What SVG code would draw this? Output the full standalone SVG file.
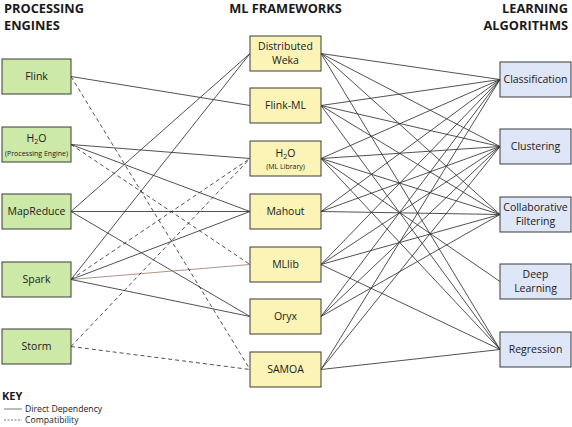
<svg xmlns="http://www.w3.org/2000/svg" width="572" height="427" viewBox="0 0 572 427">
<style>
  rect.box { stroke:#3a3a3a; stroke-width:1; }
  .eng rect { fill:#cde9a8; }
  .fw rect { fill:#fbf4b6; }
  .alg rect { fill:#dfe6f7; }
  text { font-family:"Open Sans","Noto Sans","Liberation Sans",sans-serif; fill:#1a1a1a; }
  .lbl { font-size:10.5px; text-anchor:middle; }
  .sm { font-size:7px; text-anchor:middle; }
  .sub { font-size:7px; }
  .hdr { font-size:12.8px; font-weight:bold; }
  #connectors line { stroke:#333; stroke-width:0.85; fill:none; }
  #connectors line.dash { stroke-dasharray:4 3; }
  #connectors line.brown { stroke:#a08070; }
  .keyline { stroke:#555; stroke-width:0.8; }
</style>

<!-- headers -->
<g id="headers">
  <text class="hdr" x="4" y="12.5">PROCESSING</text>
  <text class="hdr" x="4" y="29.5">ENGINES</text>
  <text class="hdr" x="285.5" y="12.5" text-anchor="middle">ML FRAMEWORKS</text>
  <text class="hdr" x="568" y="12.5" text-anchor="end">LEARNING</text>
  <text class="hdr" x="568" y="29.5" text-anchor="end">ALGORITHMS</text>
</g>

<!-- connectors -->
<g id="connectors">
  <!-- engines to frameworks -->
  <line x1="71" y1="76.5" x2="250" y2="105.5"/>
  <line x1="71" y1="144.5" x2="250" y2="158.5"/>
  <line x1="71" y1="144.5" x2="250" y2="211.5"/>
  <line x1="71" y1="211.5" x2="250" y2="53.5"/>
  <line x1="71" y1="211.5" x2="250" y2="211.5"/>
  <line x1="71" y1="211.5" x2="250" y2="316.5"/>
  <line x1="71" y1="279.5" x2="250" y2="53.5"/>
  <line x1="71" y1="279.5" x2="250" y2="211.5"/>
  <line class="brown" x1="71" y1="279.5" x2="250" y2="264.5"/>
  <line x1="71" y1="279.5" x2="250" y2="316.5"/>
  <line class="dash" x1="71" y1="76.5" x2="250" y2="369.5"/>
  <line class="dash" x1="71" y1="144.5" x2="250" y2="264.5"/>
  <line class="dash" x1="71" y1="279.5" x2="250" y2="158.5"/>
  <line class="dash" x1="71" y1="346.5" x2="250" y2="158.5"/>
  <line class="dash" x1="71" y1="346.5" x2="250" y2="369.5"/>
  <!-- frameworks to algorithms -->
  <line x1="321" y1="53.5" x2="500" y2="79.5"/>
  <line x1="321" y1="53.5" x2="500" y2="146.5"/>
  <line x1="321" y1="53.5" x2="500" y2="214.5"/>
  <line x1="321" y1="53.5" x2="500" y2="349.5"/>
  <line x1="321" y1="105.5" x2="500" y2="79.5"/>
  <line x1="321" y1="105.5" x2="500" y2="146.5"/>
  <line x1="321" y1="105.5" x2="500" y2="214.5"/>
  <line x1="321" y1="105.5" x2="500" y2="349.5"/>
  <line x1="321" y1="158.5" x2="500" y2="79.5"/>
  <line x1="321" y1="158.5" x2="500" y2="146.5"/>
  <line x1="321" y1="158.5" x2="500" y2="214.5"/>
  <line x1="321" y1="158.5" x2="500" y2="281.5"/>
  <line x1="321" y1="158.5" x2="500" y2="349.5"/>
  <line x1="321" y1="211.5" x2="500" y2="79.5"/>
  <line x1="321" y1="211.5" x2="500" y2="146.5"/>
  <line x1="321" y1="211.5" x2="500" y2="214.5"/>
  <line x1="321" y1="264.5" x2="500" y2="79.5"/>
  <line x1="321" y1="264.5" x2="500" y2="146.5"/>
  <line x1="321" y1="264.5" x2="500" y2="214.5"/>
  <line x1="321" y1="264.5" x2="500" y2="349.5"/>
  <line x1="321" y1="316.5" x2="500" y2="79.5"/>
  <line x1="321" y1="316.5" x2="500" y2="146.5"/>
  <line x1="321" y1="316.5" x2="500" y2="214.5"/>
  <line x1="321" y1="369.5" x2="500" y2="79.5"/>
  <line x1="321" y1="369.5" x2="500" y2="146.5"/>
  <line x1="321" y1="369.5" x2="500" y2="349.5"/>
</g>

<!-- processing engines -->
<g id="eng-flink" class="eng">
  <rect class="box" x="2" y="59" width="69" height="35"/>
  <text class="lbl" x="36.5" y="80.3">Flink</text>
</g>
<g id="eng-h2o" class="eng">
  <rect class="box" x="2" y="127" width="69" height="35"/>
  <text class="lbl" x="36.5" y="141.5">H<tspan class="sub" dy="2.5">2</tspan><tspan dy="-2.5">O</tspan></text>
  <text class="sm" x="36.5" y="155.5">(Processing Engine)</text>
</g>
<g id="eng-mapreduce" class="eng">
  <rect class="box" x="2" y="194" width="69" height="35"/>
  <text class="lbl" x="36.5" y="215.3">MapReduce</text>
</g>
<g id="eng-spark" class="eng">
  <rect class="box" x="2" y="262" width="69" height="35"/>
  <text class="lbl" x="36.5" y="283.3">Spark</text>
</g>
<g id="eng-storm" class="eng">
  <rect class="box" x="2" y="329" width="69" height="35"/>
  <text class="lbl" x="36.5" y="350.3">Storm</text>
</g>

<!-- ML frameworks -->
<g id="fw-dweka" class="fw">
  <rect class="box" x="250" y="36" width="71" height="35"/>
  <text class="lbl" x="285.5" y="49.5">Distributed</text>
  <text class="lbl" x="285.5" y="64">Weka</text>
</g>
<g id="fw-flinkml" class="fw">
  <rect class="box" x="250" y="88" width="71" height="35"/>
  <text class="lbl" x="285.5" y="109.3">Flink-ML</text>
</g>
<g id="fw-h2o" class="fw">
  <rect class="box" x="250" y="141" width="71" height="35"/>
  <text class="lbl" x="285.5" y="156.5">H<tspan class="sub" dy="2.5">2</tspan><tspan dy="-2.5">O</tspan></text>
  <text class="sm" x="285.5" y="169.3">(ML Library)</text>
</g>
<g id="fw-mahout" class="fw">
  <rect class="box" x="250" y="194" width="71" height="35"/>
  <text class="lbl" x="285.5" y="215.3">Mahout</text>
</g>
<g id="fw-mllib" class="fw">
  <rect class="box" x="250" y="247" width="71" height="35"/>
  <text class="lbl" x="285.5" y="268.3">MLlib</text>
</g>
<g id="fw-oryx" class="fw">
  <rect class="box" x="250" y="299" width="71" height="35"/>
  <text class="lbl" x="285.5" y="320.3">Oryx</text>
</g>
<g id="fw-samoa" class="fw">
  <rect class="box" x="250" y="352" width="71" height="35"/>
  <text class="lbl" x="285.5" y="373.3">SAMOA</text>
</g>

<!-- learning algorithms -->
<g id="alg-classification" class="alg">
  <rect class="box" x="500" y="62" width="71" height="35"/>
  <text class="lbl" x="535.5" y="83.3">Classification</text>
</g>
<g id="alg-clustering" class="alg">
  <rect class="box" x="500" y="129" width="71" height="35"/>
  <text class="lbl" x="535.5" y="150.3">Clustering</text>
</g>
<g id="alg-cf" class="alg">
  <rect class="box" x="500" y="197" width="71" height="35"/>
  <text class="lbl" x="535.5" y="211">Collaborative</text>
  <text class="lbl" x="535.5" y="225">Filtering</text>
</g>
<g id="alg-dl" class="alg">
  <rect class="box" x="500" y="264" width="71" height="35"/>
  <text class="lbl" x="535.5" y="277.7">Deep</text>
  <text class="lbl" x="535.5" y="291.5">Learning</text>
</g>
<g id="alg-regression" class="alg">
  <rect class="box" x="500" y="332" width="71" height="35"/>
  <text class="lbl" x="535.5" y="353.3">Regression</text>
</g>

<!-- key -->
<g id="key">
  <text x="2" y="400" style="font-size:11px;font-weight:bold">KEY</text>
  <line class="keyline" x1="4" y1="409" x2="22" y2="409"/>
  <text x="25" y="412.3" style="font-size:8.7px">Direct Dependency</text>
  <line class="keyline" x1="4" y1="420" x2="22" y2="420" stroke-dasharray="2 1.5"/>
  <text x="25" y="423" style="font-size:8.7px">Compatibility</text>
</g>
</svg>
